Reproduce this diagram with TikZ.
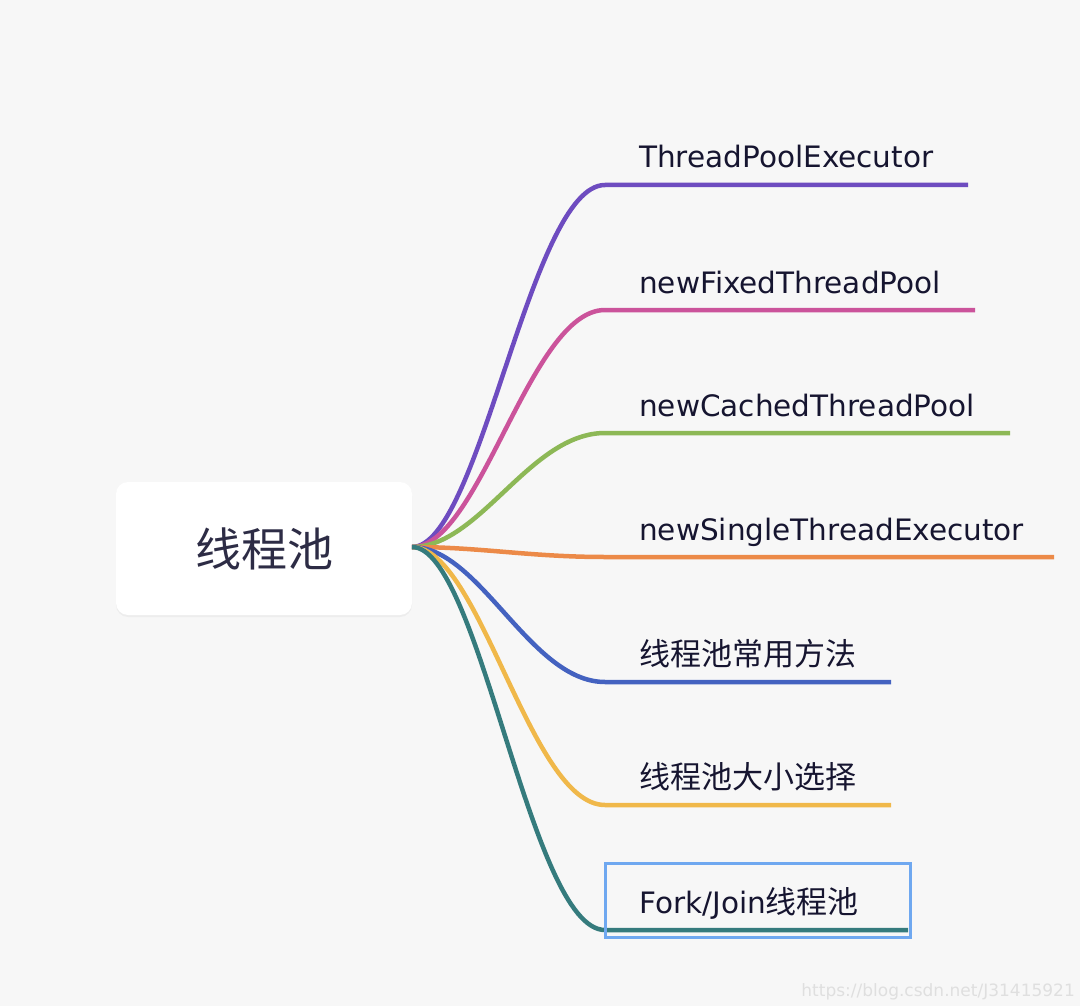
\documentclass[tikz,border=0pt]{standalone}
\usepackage{fontspec}
\setmainfont{DejaVu Sans}
\newfontfamily\cjk{Noto Sans CJK SC}
\newcommand\zh[1]{{\cjk\fontsize{31}{34}\selectfont #1}}
\usetikzlibrary{shadows}
\definecolor{bg}{HTML}{F7F7F7}
\definecolor{cpur}{HTML}{6E4CC0}
\definecolor{cpink}{HTML}{CB539B}
\definecolor{cgreen}{HTML}{8DB856}
\definecolor{corange}{HTML}{EC8A48}
\definecolor{cblue}{HTML}{4462C0}
\definecolor{cyellow}{HTML}{F0B84A}
\definecolor{cteal}{HTML}{357B7D}
\definecolor{txt}{HTML}{161530}
\begin{document}
\begin{tikzpicture}[x=1pt,y=-1pt,
  br/.style={line width=4.5pt},
  lbl/.style={anchor=base west,inner sep=0,text=txt,font=\fontsize{29.5}{32}\selectfont}]
\fill[bg] (0,0) rectangle (1080,1006);
\useasboundingbox (0,0) rectangle (1080,1006);
\node[fill=white,rounded corners=12pt,minimum width=296pt,minimum height=133pt,
  drop shadow={opacity=0.08,shadow xshift=0pt,shadow yshift=-2pt},
  font=\cjk\fontsize{46}{48}\selectfont,text=txt!90] (root) at (264,548.5) {线程池};
\coordinate (o) at (412,547);
\foreach \y/\e/\c/\t/\n in {185/968/cpur/ThreadPoolExecutor/a,310/975/cpink/newFixedThreadPool/b,433/1010/cgreen/newCachedThreadPool/c,557/1054/corange/newSingleThreadExecutor/d,682/891/cblue/{\zh{线程池常用方法}}/e,805/891/cyellow/{\zh{线程池大小选择}}/f,930/908/cteal/{Fork{/}Join\zh{线程池}}/g}{
  \coordinate (s\n) at (605,\y);
  \coordinate (e\n) at (\e,\y);
  \draw[br,\c] (o) .. controls (480,547) and (530,\y) .. (s\n) -- (e\n);
  \node[lbl] (t\n) at (639,\y-17) {\t};
}
\draw[line width=3pt,color={rgb,255:red,111;green,168;blue,240}] (605,863) rectangle (910,937);
\node[anchor=south east,inner sep=0,text=gray!25,font=\fontsize{17}{18}\selectfont] (wm) at (1075,1000) {https://blog.csdn.net/J31415921};
\end{tikzpicture}
\end{document}
